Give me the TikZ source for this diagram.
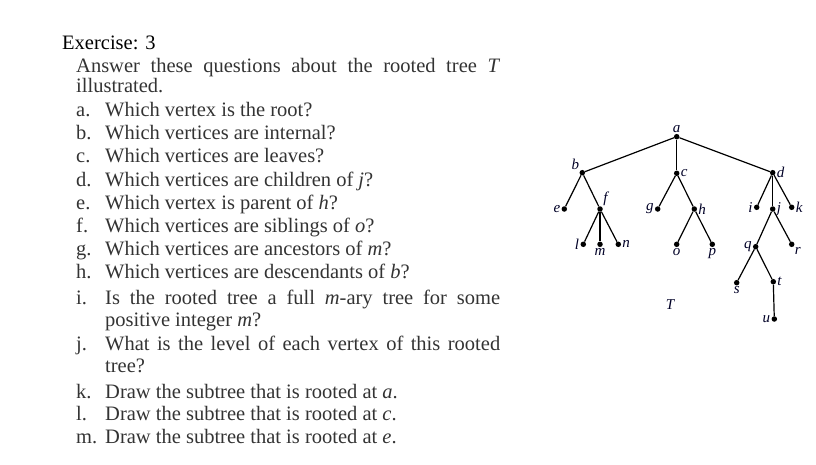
\documentclass[tikz,border=0pt]{standalone}
\usepackage{fontspec}
\setmainfont{Liberation Serif}
\begin{document}
\begin{tikzpicture}[x=1pt,y=-1pt,
  txt/.style={anchor=base west,inner sep=0pt,font=\fontsize{20.5}{22}\selectfont,text=black!80},
  v/.style={circle,fill=black,inner sep=0pt,minimum size=5.5pt},
  lab/.style={font=\fontsize{15}{16}\selectfont\itshape,text=black!85!blue,inner sep=1pt},
  edge/.style={line width=1.2pt}]
\useasboundingbox (0,0) rectangle (816,465);
\node[txt,text=black] (t0) at (62,50) {Exercise: 3};
\node[txt] (t1) at (76,73) {\makebox[424pt][s]{Answer these questions about the rooted tree \textit{T}}};
\node[txt] (t2) at (76,93) {illustrated.};
\foreach \l/\y/\s [count=\k] in {a./117/Which vertex is the root?,b./140/Which vertices are internal?,c./163/Which vertices are leaves?,d./186/Which vertices are children of \textit{j}?,e./209/Which vertex is parent of \textit{h}?,f./232/Which vertices are siblings of \textit{o}?,g./255/Which vertices are ancestors of \textit{m}?,h./278/Which vertices are descendants of \textit{b}?}{
  \node[txt] (l\k) at (76,\y) {\l};
  \node[txt] (s\k) at (105,\y) {\s};
}
\node[txt] (li) at (76,304) {i.};
\node[txt] (si) at (105,304) {\makebox[395pt][s]{Is the rooted tree a full \textit{m}-ary tree for some}};
\node[txt] (si2) at (105,326) {positive integer \textit{m}?};
\node[txt] (lj) at (76,350) {j.};
\node[txt] (sj) at (105,350) {\makebox[395pt][s]{What is the level of each vertex of this rooted}};
\node[txt] (sj2) at (105,372) {tree?};
\node[txt] (lk) at (76,398) {k.};
\node[txt] (sk) at (105,398) {Draw the subtree that is rooted at \textit{a}.};
\node[txt] (ll) at (76,420) {l.};
\node[txt] (sl) at (105,420) {Draw the subtree that is rooted at \textit{c}.};
\node[txt] (lm) at (76,443) {m.};
\node[txt] (sm) at (105,443) {Draw the subtree that is rooted at \textit{e}.};
% tree
\foreach \n/\x/\y/\p in {a/676.7/136.7/above,b/582.3/172.7/above left,c/676.7/173.3/right,d/772.7/172.7/right,
 e/564.3/209/left,f/600/209/above right,g/657.7/209/left,h/694.3/209/right,i/756.7/207.3/left,j/772.7/209/right,k/791.7/207.3/right,
 l/583.3/244.3/left,m/600/244.3/below,n/618.3/244.3/right,o/676.7/244.3/below,p/712.3/244.3/below,q/755.7/246.7/left,r/791.7/244.3/below right,
 s/736.7/282.7/below,t/773.3/281.7/right,u/774.3/319/left}{
  \node[v,label={[lab]\p:\n}] (\n) at (\x,\y) {};
}
\foreach \x/\y in {a/b,a/c,a/d,b/e,b/f,c/g,c/h,d/i,d/j,d/k,f/l,f/m,f/n,h/o,h/p,j/q,j/r,q/s,q/t,t/u}
  \draw[edge] (\x) -- (\y);
\node[lab] (T) at (670,305) {T};
\end{tikzpicture}
\end{document}
